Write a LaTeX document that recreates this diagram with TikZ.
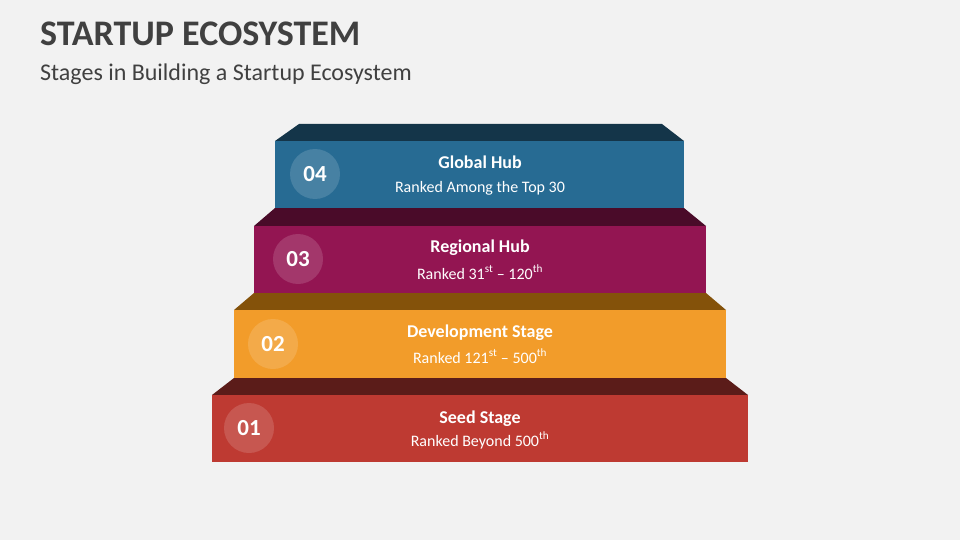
\documentclass[tikz,border=0pt]{standalone}
\usepackage{fontspec}
\setmainfont{Carlito}
\definecolor{bg}{HTML}{F2F2F2}
\definecolor{titlec}{HTML}{404040}
\definecolor{fA}{HTML}{BE3A32}\definecolor{tA}{HTML}{5B1C19}
\definecolor{fB}{HTML}{F29C2A}\definecolor{tB}{HTML}{84520A}
\definecolor{fC}{HTML}{931552}\definecolor{tC}{HTML}{4A0B29}
\definecolor{fD}{HTML}{276B93}\definecolor{tD}{HTML}{143549}
\tikzset{
  numcircle/.style={circle, fill=white, fill opacity=0.15, minimum size=50pt, inner sep=0pt},
  numtext/.style={text=white, font=\bfseries\fontsize{23}{25}\selectfont},
  headtext/.style={anchor=base, text=white, font=\bfseries\fontsize{18}{20}\selectfont, inner sep=0pt},
  subtext/.style={anchor=base, text=white, font=\fontsize{16}{18}\selectfont, inner sep=0pt},
}
\begin{document}
\begin{tikzpicture}[x=1pt,y=-1pt]
\fill[bg] (0,0) rectangle (960,540);
\useasboundingbox (0,0) rectangle (960,540);
\node[anchor=base west, inner sep=0pt, text=titlec, font=\bfseries\fontsize{36}{40}\selectfont] (title) at (40,46) {STARTUP ECOSYSTEM};
\node[anchor=base west, inner sep=0pt, text=titlec, font=\fontsize{24}{28}\selectfont] (subtitle) at (40,81) {Stages in Building a Startup Ecosystem};
% stages: name/frontL/frontR/backL/backR/backY/frontTop/frontBot/front/top/cx/cy
\foreach \n/\fl/\fr/\bl/\br/\by/\ft/\fb/\fc/\tc/\cx/\cy in {
  1/212/748/234/726/378/395/462/fA/tA/249/428,
  2/234/726/254/706/293/310/378/fB/tB/273/344,
  3/254/706/275/684/208/226/293/fC/tC/298/259,
  4/275/684/299/662/124/141/208/fD/tD/315/174}{
  \fill[\tc] (\bl,\by) -- (\br,\by) -- (\fr,\ft) -- (\fl,\ft) -- cycle;
  \fill[\fc] (\fl,\ft) rectangle (\fr,\fb);
  \node[numcircle] (circ\n) at (\cx,\cy) {};
  \node[numtext] (num\n) at (\cx,\cy) {0\n};
}
\node[headtext] (h4) at (480,169) {Global Hub};
\node[subtext] (s4) at (480,193) {Ranked Among the Top 30};
\node[headtext] (h3) at (480,252) {Regional Hub};
\node[subtext] (s3) at (480,279) {Ranked 31\textsuperscript{st} – 120\textsuperscript{th}};
\node[headtext] (h2) at (480,337) {Development Stage};
\node[subtext] (s2) at (480,363) {Ranked 121\textsuperscript{st} – 500\textsuperscript{th}};
\node[headtext] (h1) at (480,423) {Seed Stage};
\node[subtext] (s1) at (480,446) {Ranked Beyond 500\textsuperscript{th}};
\end{tikzpicture}
\end{document}
